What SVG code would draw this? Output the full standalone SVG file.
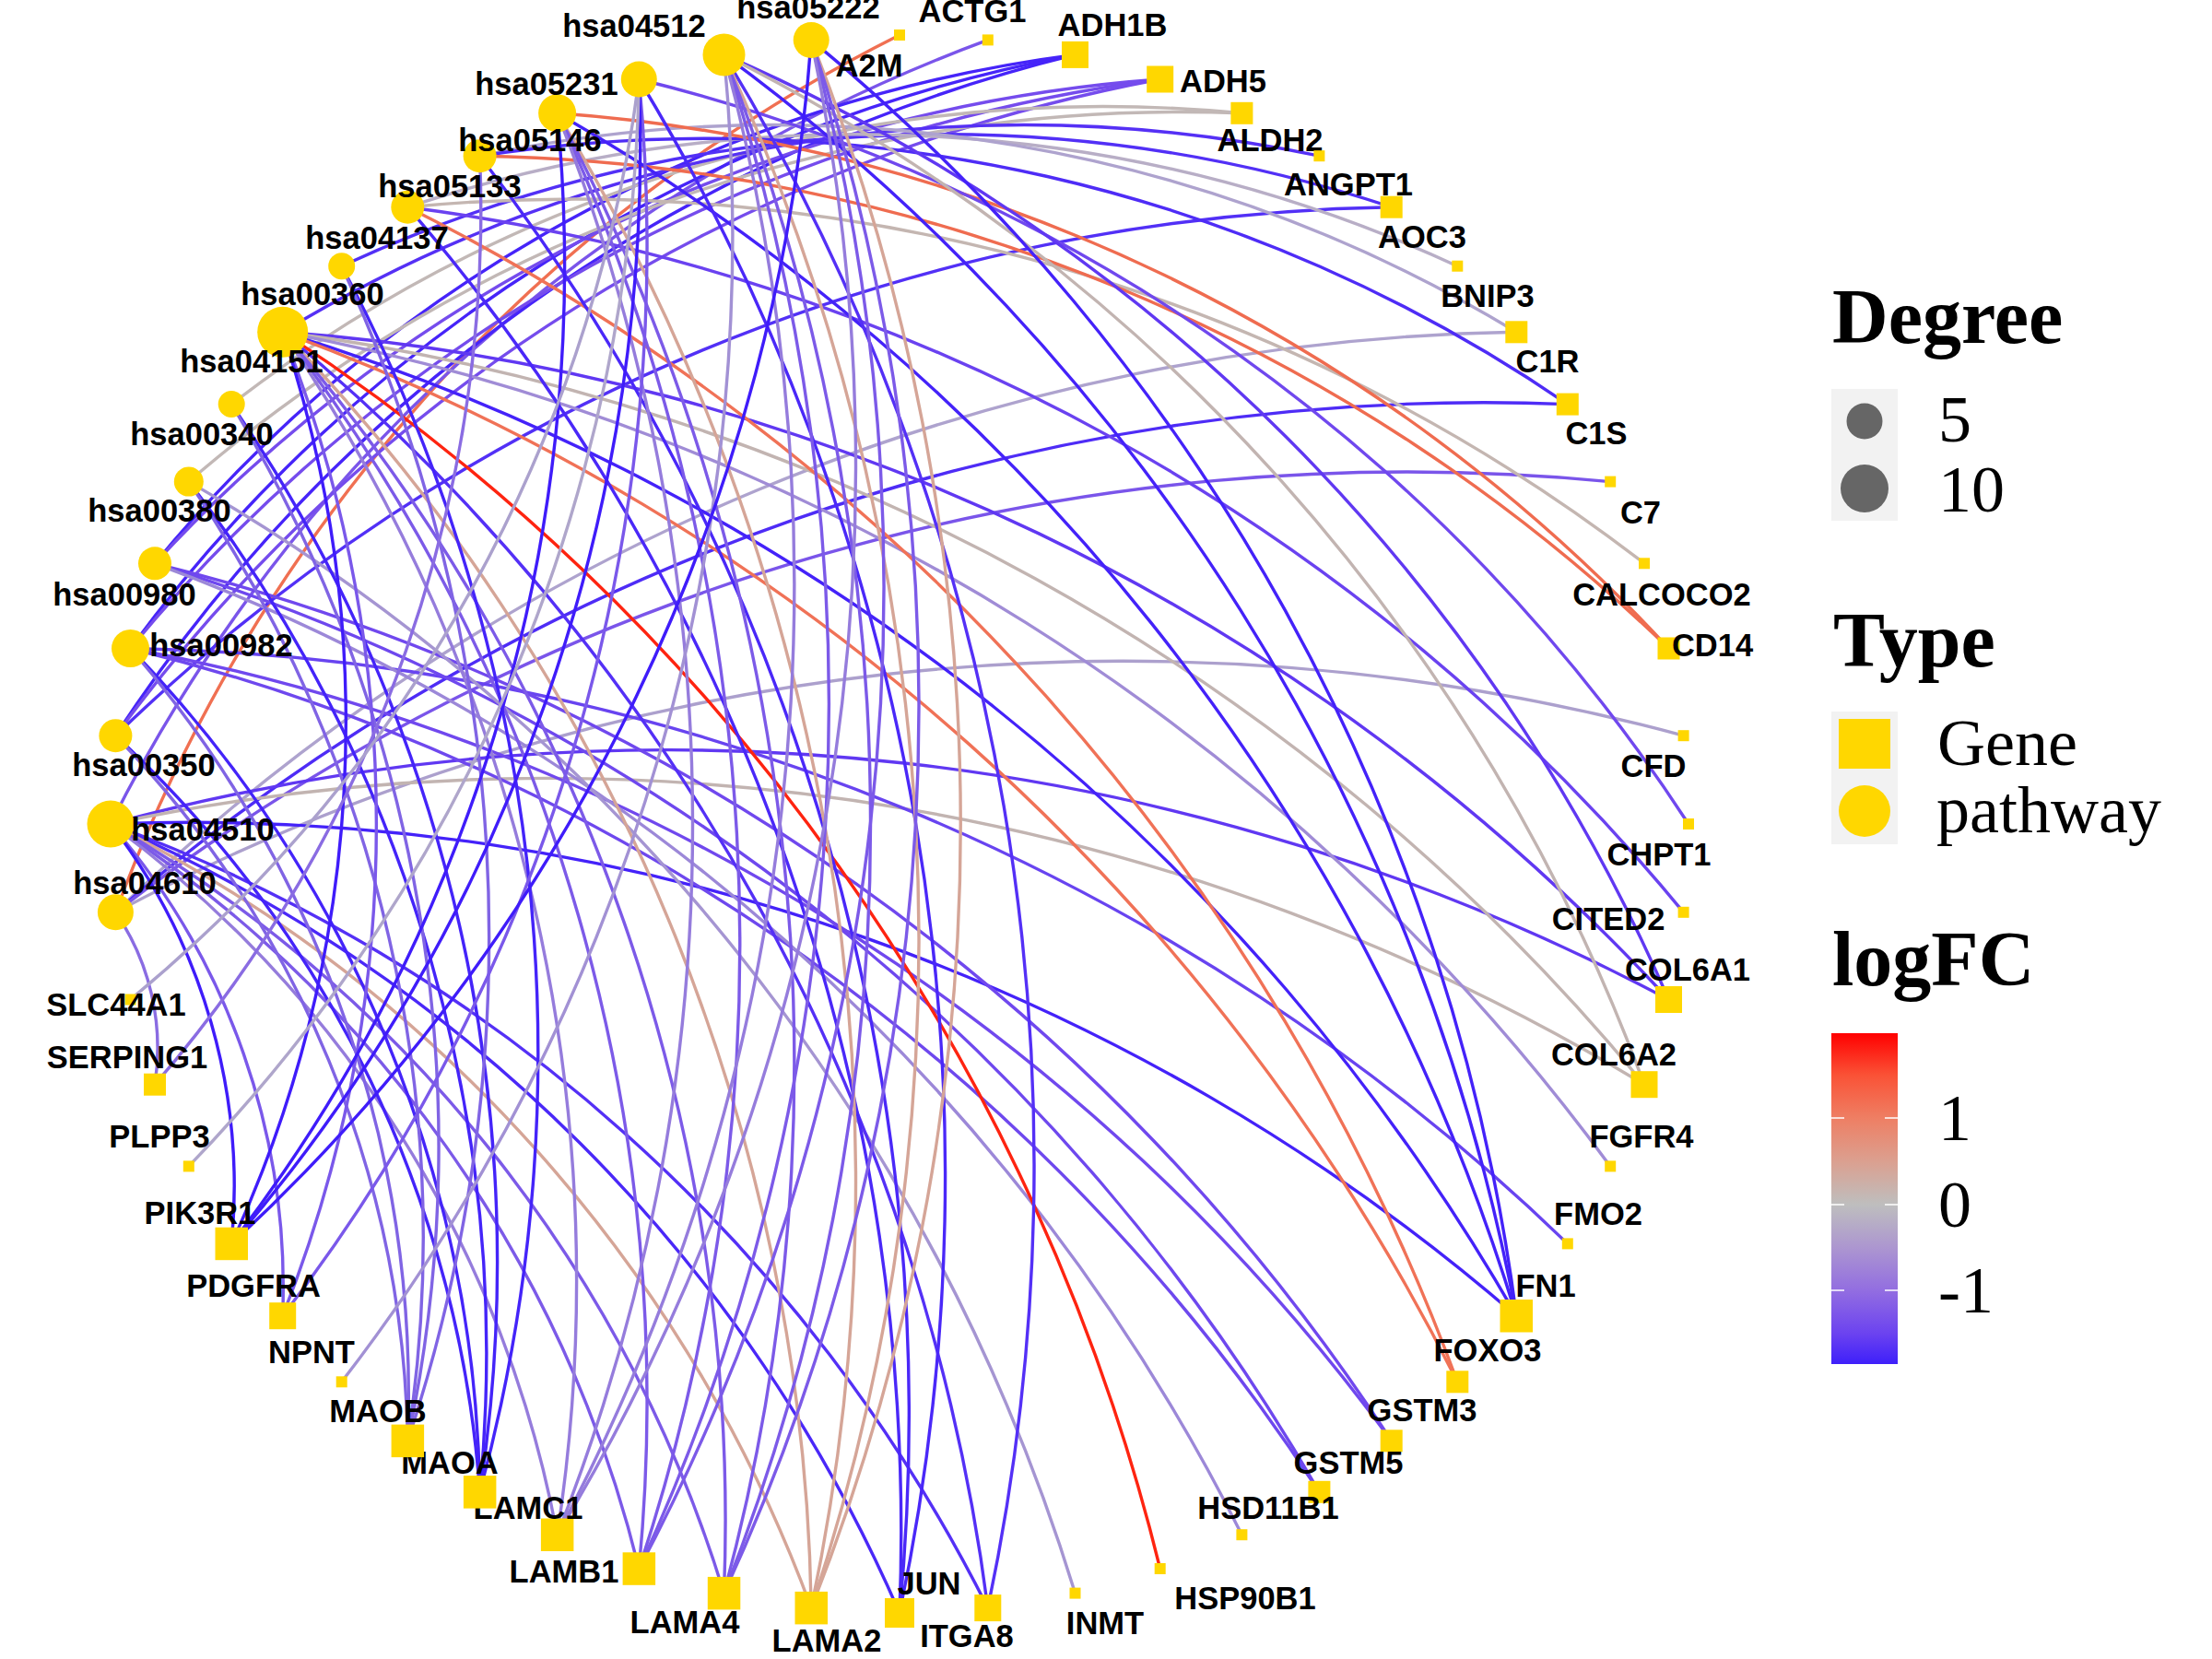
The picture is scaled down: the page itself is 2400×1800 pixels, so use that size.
<svg xmlns="http://www.w3.org/2000/svg" width="2400" height="1800" viewBox="0 0 2400 1800">
<style>
.e{fill:none;stroke-width:3.4}
.lb{font-family:"Liberation Sans",Arial,sans-serif;font-weight:bold;font-size:34.5px;fill:#000;text-anchor:middle}
.gene{fill:#FFD700}
.pw{fill:#FFD700}
.lt{font-family:"Liberation Serif","Times New Roman",serif;font-weight:bold;font-size:84px;fill:#000}
.ll{font-family:"Liberation Serif","Times New Roman",serif;font-size:72px;fill:#000}
.cA2M{stroke:#F07052}.cACTG1{stroke:#7A55EA}.cADH1B{stroke:#4624F9}.cADH5{stroke:#754CED}.cALDH2{stroke:#C2B8B6}
.cANGPT1{stroke:#5530F5}.cAOC3{stroke:#5230F6}.cBNIP3{stroke:#B8AEC6}.cC1R{stroke:#AEA3CE}.cC1S{stroke:#4E2CF6}
.cC7{stroke:#7A55EA}.cCALCOCO2{stroke:#C4B6B1}.cCD14{stroke:#EF6C50}.cCFD{stroke:#ACA0CD}.cCHPT1{stroke:#7048EE}
.cCITED2{stroke:#6A42F0}.cCOL6A1{stroke:#6038F2}.cCOL6A2{stroke:#C2B4B1}.cFGFR4{stroke:#A08CD6}.cFMO2{stroke:#6844F0}
.cFN1{stroke:#4422F9}.cFOXO3{stroke:#F07257}.cGSTM3{stroke:#7048EE}.cGSTM5{stroke:#6E48EE}.cHSD11B1{stroke:#9C88D8}
.cHSP90B1{stroke:#FE2410}.cINMT{stroke:#A595D2}.cITGA8{stroke:#5430F6}.cJUN{stroke:#4A28F8}.cLAMA2{stroke:#D5A597}
.cLAMA4{stroke:#7C5AE8}.cLAMB1{stroke:#7C5AE8}.cLAMC1{stroke:#957CDC}.cMAOA{stroke:#4424F9}.cMAOB{stroke:#8064E4}
.cNPNT{stroke:#A291D4}.cPDGFRA{stroke:#7A58EA}.cPIK3R1{stroke:#3F1CFA}.cPLPP3{stroke:#AFA6CB}.cSERPING1{stroke:#8A6CE2}
.cSLC44A1{stroke:#ABA1CD}
</style>
<defs>
<linearGradient id="fcgrad" x1="0" y1="0" x2="0" y2="1">
<stop offset="0" stop-color="#FF0000"/>
<stop offset="0.127" stop-color="#FA5236"/>
<stop offset="0.258" stop-color="#EE7F64"/>
<stop offset="0.388" stop-color="#DBA090"/>
<stop offset="0.518" stop-color="#BEBEBE"/>
<stop offset="0.648" stop-color="#AC96D0"/>
<stop offset="0.779" stop-color="#926DE1"/>
<stop offset="0.909" stop-color="#6B42F0"/>
<stop offset="1" stop-color="#3E1FFA"/>
</linearGradient>
</defs>
<rect width="2400" height="1800" fill="#FFFFFF"/>
<g id="edges">
<path class="e cA2M" d="M125.4 989.8A1736.2 1736.2 0 0 1 976 38"/>
<path class="e cC1R" d="M125.4 989.8A2237 2237 0 0 1 1645.3 360.3"/>
<path class="e cC1S" d="M125.4 989.8A2269.6 2269.6 0 0 1 1700.8 438.6"/>
<path class="e cC7" d="M125.4 989.8A2295.1 2295.1 0 0 1 1747.2 522.6"/>
<path class="e cCFD" d="M125.4 989.8A2328 2328 0 0 1 1826.6 798.2"/>
<path class="e cSERPING1" d="M125.4 989.8A260.6 260.6 0 0 1 168 1176.7"/>
<path class="e cACTG1" d="M120 894A1736.2 1736.2 0 0 1 1071.8 43.4"/>
<path class="e cCOL6A1" d="M120 894A2313.4 2313.4 0 0 1 1810.5 1084.5"/>
<path class="e cCOL6A2" d="M120 894A2295.1 2295.1 0 0 1 1784 1176.7"/>
<path class="e cFN1" d="M120 894A2197.4 2197.4 0 0 1 1645.3 1427.7"/>
<path class="e cITGA8" d="M120 894A1736.2 1736.2 0 0 1 1071.8 1744.6"/>
<path class="e cJUN" d="M120 894A1646.1 1646.1 0 0 1 976 1750"/>
<path class="e cLAMA2" d="M120 894A1551.2 1551.2 0 0 1 880.2 1744.6"/>
<path class="e cLAMA4" d="M120 894A1451.5 1451.5 0 0 1 785.5 1728.6"/>
<path class="e cLAMB1" d="M120 894A1347.2 1347.2 0 0 1 693.3 1702"/>
<path class="e cLAMC1" d="M120 894A1238.6 1238.6 0 0 1 604.6 1665.2"/>
<path class="e cPDGFRA" d="M120 894A768.9 768.9 0 0 1 306.7 1427.7"/>
<path class="e cPIK3R1" d="M120 894A644.5 644.5 0 0 1 251.2 1349.4"/>
<path class="e cADH1B" d="M125.4 798.2A1736.2 1736.2 0 0 1 1166.5 59.4"/>
<path class="e cADH5" d="M125.4 798.2A1820.1 1820.1 0 0 1 1258.7 86"/>
<path class="e cAOC3" d="M125.4 798.2A2037.4 2037.4 0 0 1 1509.7 224.7"/>
<path class="e cMAOA" d="M125.4 798.2A1238.6 1238.6 0 0 1 520.6 1618.8"/>
<path class="e cMAOB" d="M125.4 798.2A1126.1 1126.1 0 0 1 442.3 1563.3"/>
<path class="e cADH1B" d="M141.5 703.5A1646.1 1646.1 0 0 1 1166.5 59.4"/>
<path class="e cADH5" d="M141.5 703.5A1736.2 1736.2 0 0 1 1258.7 86"/>
<path class="e cFMO2" d="M141.5 703.5A2295.1 2295.1 0 0 1 1700.8 1349.4"/>
<path class="e cGSTM3" d="M141.5 703.5A2197.4 2197.4 0 0 1 1509.7 1563.3"/>
<path class="e cGSTM5" d="M141.5 703.5A2150.8 2150.8 0 0 1 1431.4 1618.8"/>
<path class="e cMAOA" d="M141.5 703.5A1347.2 1347.2 0 0 1 520.6 1618.8"/>
<path class="e cMAOB" d="M141.5 703.5A1238.6 1238.6 0 0 1 442.3 1563.3"/>
<path class="e cADH1B" d="M168 611.3A1551.2 1551.2 0 0 1 1166.5 59.4"/>
<path class="e cADH5" d="M168 611.3A1646.1 1646.1 0 0 1 1258.7 86"/>
<path class="e cGSTM3" d="M168 611.3A2237 2237 0 0 1 1509.7 1563.3"/>
<path class="e cGSTM5" d="M168 611.3A2197.4 2197.4 0 0 1 1431.4 1618.8"/>
<path class="e cHSD11B1" d="M168 611.3A2150.8 2150.8 0 0 1 1347.4 1665.2"/>
<path class="e cALDH2" d="M204.8 522.6A1646.1 1646.1 0 0 1 1347.4 122.8"/>
<path class="e cINMT" d="M204.8 522.6A2097.5 2097.5 0 0 1 1166.5 1728.6"/>
<path class="e cMAOA" d="M204.8 522.6A1551.2 1551.2 0 0 1 520.6 1618.8"/>
<path class="e cMAOB" d="M204.8 522.6A1451.5 1451.5 0 0 1 442.3 1563.3"/>
<path class="e cALDH2" d="M251.2 438.6A1551.2 1551.2 0 0 1 1347.4 122.8"/>
<path class="e cMAOA" d="M251.2 438.6A1646.1 1646.1 0 0 1 520.6 1618.8"/>
<path class="e cMAOB" d="M251.2 438.6A1551.2 1551.2 0 0 1 442.3 1563.3"/>
<path class="e cANGPT1" d="M306.7 360.3A1551.2 1551.2 0 0 1 1431.4 169.2"/>
<path class="e cCOL6A1" d="M306.7 360.3A2269.6 2269.6 0 0 1 1810.5 1084.5"/>
<path class="e cCOL6A2" d="M306.7 360.3A2295.1 2295.1 0 0 1 1784 1176.7"/>
<path class="e cFGFR4" d="M306.7 360.3A2313.4 2313.4 0 0 1 1747.2 1265.4"/>
<path class="e cFN1" d="M306.7 360.3A2328 2328 0 0 1 1645.3 1427.7"/>
<path class="e cFOXO3" d="M306.7 360.3A2324.3 2324.3 0 0 1 1581.3 1499.3"/>
<path class="e cHSP90B1" d="M306.7 360.3A2237 2237 0 0 1 1258.7 1702"/>
<path class="e cITGA8" d="M306.7 360.3A2150.8 2150.8 0 0 1 1071.8 1744.6"/>
<path class="e cLAMA2" d="M306.7 360.3A2037.4 2037.4 0 0 1 880.2 1744.6"/>
<path class="e cLAMA4" d="M306.7 360.3A1971.2 1971.2 0 0 1 785.5 1728.6"/>
<path class="e cLAMB1" d="M306.7 360.3A1898.9 1898.9 0 0 1 693.3 1702"/>
<path class="e cLAMC1" d="M306.7 360.3A1820.1 1820.1 0 0 1 604.6 1665.2"/>
<path class="e cPDGFRA" d="M306.7 360.3A1451.5 1451.5 0 0 1 306.7 1427.7"/>
<path class="e cPIK3R1" d="M306.7 360.3A1347.2 1347.2 0 0 1 251.2 1349.4"/>
<path class="e cAOC3" d="M370.7 288.7A1551.2 1551.2 0 0 1 1509.7 224.7"/>
<path class="e cMAOA" d="M370.7 288.7A1820.1 1820.1 0 0 1 520.6 1618.8"/>
<path class="e cMAOB" d="M370.7 288.7A1736.2 1736.2 0 0 1 442.3 1563.3"/>
<path class="e cBNIP3" d="M442.3 224.7A1551.2 1551.2 0 0 1 1581.3 288.7"/>
<path class="e cCALCOCO2" d="M442.3 224.7A1898.9 1898.9 0 0 1 1784 611.3"/>
<path class="e cCITED2" d="M442.3 224.7A2150.8 2150.8 0 0 1 1826.6 989.8"/>
<path class="e cFOXO3" d="M442.3 224.7A2324.3 2324.3 0 0 1 1581.3 1499.3"/>
<path class="e cJUN" d="M442.3 224.7A2197.4 2197.4 0 0 1 976 1750"/>
<path class="e cC1R" d="M520.6 169.2A1551.2 1551.2 0 0 1 1645.3 360.3"/>
<path class="e cC1S" d="M520.6 169.2A1646.1 1646.1 0 0 1 1700.8 438.6"/>
<path class="e cCD14" d="M520.6 169.2A1898.9 1898.9 0 0 1 1810.5 703.5"/>
<path class="e cJUN" d="M520.6 169.2A2237 2237 0 0 1 976 1750"/>
<path class="e cSERPING1" d="M520.6 169.2A1451.5 1451.5 0 0 1 168 1176.7"/>
<path class="e cCD14" d="M604.6 122.8A1820.1 1820.1 0 0 1 1810.5 703.5"/>
<path class="e cFN1" d="M604.6 122.8A2269.6 2269.6 0 0 1 1645.3 1427.7"/>
<path class="e cLAMA2" d="M604.6 122.8A2237 2237 0 0 1 880.2 1744.6"/>
<path class="e cLAMA4" d="M604.6 122.8A2197.4 2197.4 0 0 1 785.5 1728.6"/>
<path class="e cLAMB1" d="M604.6 122.8A2150.8 2150.8 0 0 1 693.3 1702"/>
<path class="e cLAMC1" d="M604.6 122.8A2097.5 2097.5 0 0 1 604.6 1665.2"/>
<path class="e cPIK3R1" d="M604.6 122.8A1736.2 1736.2 0 0 1 251.2 1349.4"/>
<path class="e cCHPT1" d="M693.3 86A1898.9 1898.9 0 0 1 1832 894"/>
<path class="e cJUN" d="M693.3 86A2295.1 2295.1 0 0 1 976 1750"/>
<path class="e cPDGFRA" d="M693.3 86A1898.9 1898.9 0 0 1 306.7 1427.7"/>
<path class="e cPIK3R1" d="M693.3 86A1820.1 1820.1 0 0 1 251.2 1349.4"/>
<path class="e cPLPP3" d="M693.3 86A1736.2 1736.2 0 0 1 204.8 1265.4"/>
<path class="e cSLC44A1" d="M693.3 86A1551.2 1551.2 0 0 1 141.5 1084.5"/>
<path class="e cCOL6A1" d="M785.5 59.4A1971.2 1971.2 0 0 1 1810.5 1084.5"/>
<path class="e cCOL6A2" d="M785.5 59.4A2037.4 2037.4 0 0 1 1784 1176.7"/>
<path class="e cFN1" d="M785.5 59.4A2197.4 2197.4 0 0 1 1645.3 1427.7"/>
<path class="e cITGA8" d="M785.5 59.4A2324.3 2324.3 0 0 1 1071.8 1744.6"/>
<path class="e cLAMA2" d="M785.5 59.4A2295.1 2295.1 0 0 1 880.2 1744.6"/>
<path class="e cLAMA4" d="M785.5 59.4A2269.6 2269.6 0 0 1 785.5 1728.6"/>
<path class="e cLAMB1" d="M785.5 59.4A2237 2237 0 0 1 693.3 1702"/>
<path class="e cLAMC1" d="M785.5 59.4A2197.4 2197.4 0 0 1 604.6 1665.2"/>
<path class="e cNPNT" d="M785.5 59.4A2037.4 2037.4 0 0 1 370.7 1499.3"/>
<path class="e cFN1" d="M880.2 43.4A2150.8 2150.8 0 0 1 1645.3 1427.7"/>
<path class="e cLAMA2" d="M880.2 43.4A2313.4 2313.4 0 0 1 880.2 1744.6"/>
<path class="e cLAMA4" d="M880.2 43.4A2295.1 2295.1 0 0 1 785.5 1728.6"/>
<path class="e cLAMB1" d="M880.2 43.4A2269.6 2269.6 0 0 1 693.3 1702"/>
<path class="e cLAMC1" d="M880.2 43.4A2237 2237 0 0 1 604.6 1665.2"/>
<path class="e cPIK3R1" d="M880.2 43.4A1971.2 1971.2 0 0 1 251.2 1349.4"/>
</g>
<g id="nodes">
<g id="n-A2M"><rect class="gene" x="970" y="32" width="12" height="12"/><text class="lb" x="943" y="83">A2M</text></g>
<g id="n-ACTG1"><rect class="gene" x="1065.8" y="37.4" width="12" height="12"/><text class="lb" x="1055" y="24">ACTG1</text></g>
<g id="n-ADH1B"><rect class="gene" x="1152" y="44.9" width="29" height="29"/><text class="lb" x="1207" y="39">ADH1B</text></g>
<g id="n-ADH5"><rect class="gene" x="1244.2" y="71.5" width="29" height="29"/><text class="lb" x="1327" y="100">ADH5</text></g>
<g id="n-ALDH2"><rect class="gene" x="1335.4" y="110.8" width="24" height="24"/><text class="lb" x="1378" y="164">ALDH2</text></g>
<g id="n-ANGPT1"><rect class="gene" x="1425.4" y="163.2" width="12" height="12"/><text class="lb" x="1463" y="212">ANGPT1</text></g>
<g id="n-AOC3"><rect class="gene" x="1497.7" y="212.7" width="24" height="24"/><text class="lb" x="1543" y="269">AOC3</text></g>
<g id="n-BNIP3"><rect class="gene" x="1575.3" y="282.7" width="12" height="12"/><text class="lb" x="1614" y="333">BNIP3</text></g>
<g id="n-C1R"><rect class="gene" x="1633.3" y="348.3" width="24" height="24"/><text class="lb" x="1679" y="404">C1R</text></g>
<g id="n-C1S"><rect class="gene" x="1688.8" y="426.6" width="24" height="24"/><text class="lb" x="1732" y="482">C1S</text></g>
<g id="n-C7"><rect class="gene" x="1741.2" y="516.6" width="12" height="12"/><text class="lb" x="1780" y="568">C7</text></g>
<g id="n-CALCOCO2"><rect class="gene" x="1778" y="605.3" width="12" height="12"/><text class="lb" x="1803" y="657">CALCOCO2</text></g>
<g id="n-CD14"><rect class="gene" x="1798.5" y="691.5" width="24" height="24"/><text class="lb" x="1858" y="712">CD14</text></g>
<g id="n-CFD"><rect class="gene" x="1820.6" y="792.2" width="12" height="12"/><text class="lb" x="1794" y="843">CFD</text></g>
<g id="n-CHPT1"><rect class="gene" x="1826" y="888" width="12" height="12"/><text class="lb" x="1800" y="939">CHPT1</text></g>
<g id="n-CITED2"><rect class="gene" x="1820.6" y="983.8" width="12" height="12"/><text class="lb" x="1745" y="1009">CITED2</text></g>
<g id="n-COL6A1"><rect class="gene" x="1796" y="1070" width="29" height="29"/><text class="lb" x="1831" y="1064">COL6A1</text></g>
<g id="n-COL6A2"><rect class="gene" x="1769.5" y="1162.2" width="29" height="29"/><text class="lb" x="1751" y="1156">COL6A2</text></g>
<g id="n-FGFR4"><rect class="gene" x="1741.2" y="1259.4" width="12" height="12"/><text class="lb" x="1781" y="1245">FGFR4</text></g>
<g id="n-FMO2"><rect class="gene" x="1694.8" y="1343.4" width="12" height="12"/><text class="lb" x="1734" y="1329">FMO2</text></g>
<g id="n-FN1"><rect class="gene" x="1627.5" y="1410" width="35.5" height="35.5"/><text class="lb" x="1677" y="1407">FN1</text></g>
<g id="n-FOXO3"><rect class="gene" x="1569.3" y="1487.3" width="24" height="24"/><text class="lb" x="1614" y="1477">FOXO3</text></g>
<g id="n-GSTM3"><rect class="gene" x="1497.7" y="1551.3" width="24" height="24"/><text class="lb" x="1543" y="1542">GSTM3</text></g>
<g id="n-GSTM5"><rect class="gene" x="1419.4" y="1606.8" width="24" height="24"/><text class="lb" x="1463" y="1599">GSTM5</text></g>
<g id="n-HSD11B1"><rect class="gene" x="1341.4" y="1659.2" width="12" height="12"/><text class="lb" x="1376" y="1648">HSD11B1</text></g>
<g id="n-HSP90B1"><rect class="gene" x="1252.7" y="1696" width="12" height="12"/><text class="lb" x="1351" y="1746">HSP90B1</text></g>
<g id="n-INMT"><rect class="gene" x="1160.5" y="1722.6" width="12" height="12"/><text class="lb" x="1199" y="1773">INMT</text></g>
<g id="n-ITGA8"><rect class="gene" x="1057.3" y="1730.1" width="29" height="29"/><text class="lb" x="1049" y="1787">ITGA8</text></g>
<g id="n-JUN"><rect class="gene" x="960" y="1734" width="32" height="32"/><text class="lb" x="1008" y="1730">JUN</text></g>
<g id="n-LAMA2"><rect class="gene" x="862.5" y="1726.9" width="35.5" height="35.5"/><text class="lb" x="897" y="1792">LAMA2</text></g>
<g id="n-LAMA4"><rect class="gene" x="767.8" y="1710.9" width="35.5" height="35.5"/><text class="lb" x="743" y="1772">LAMA4</text></g>
<g id="n-LAMB1"><rect class="gene" x="675.6" y="1684.3" width="35.5" height="35.5"/><text class="lb" x="612" y="1717">LAMB1</text></g>
<g id="n-LAMC1"><rect class="gene" x="586.9" y="1647.5" width="35.5" height="35.5"/><text class="lb" x="573" y="1648">LAMC1</text></g>
<g id="n-MAOA"><rect class="gene" x="502.9" y="1601.1" width="35.5" height="35.5"/><text class="lb" x="488" y="1599">MAOA</text></g>
<g id="n-MAOB"><rect class="gene" x="424.6" y="1545.6" width="35.5" height="35.5"/><text class="lb" x="410" y="1543">MAOB</text></g>
<g id="n-NPNT"><rect class="gene" x="364.7" y="1493.3" width="12" height="12"/><text class="lb" x="338" y="1479">NPNT</text></g>
<g id="n-PDGFRA"><rect class="gene" x="292.2" y="1413.2" width="29" height="29"/><text class="lb" x="275" y="1407">PDGFRA</text></g>
<g id="n-PIK3R1"><rect class="gene" x="233.5" y="1331.7" width="35.5" height="35.5"/><text class="lb" x="217" y="1328">PIK3R1</text></g>
<g id="n-PLPP3"><rect class="gene" x="198.8" y="1259.4" width="12" height="12"/><text class="lb" x="173" y="1245">PLPP3</text></g>
<g id="n-SERPING1"><rect class="gene" x="156" y="1164.7" width="24" height="24"/><text class="lb" x="138" y="1159">SERPING1</text></g>
<g id="n-SLC44A1"><rect class="gene" x="135.5" y="1078.5" width="12" height="12"/><text class="lb" x="126" y="1102">SLC44A1</text></g>
<g id="n-hsa04610"><circle class="pw" cx="125.4" cy="989.8" r="19.5"/><text class="lb" x="157" y="970">hsa04610</text></g>
<g id="n-hsa04510"><circle class="pw" cx="120" cy="894" r="25.5"/><text class="lb" x="220" y="912">hsa04510</text></g>
<g id="n-hsa00350"><circle class="pw" cx="125.4" cy="798.2" r="18"/><text class="lb" x="156" y="842">hsa00350</text></g>
<g id="n-hsa00982"><circle class="pw" cx="141.5" cy="703.5" r="20.5"/><text class="lb" x="240" y="712">hsa00982</text></g>
<g id="n-hsa00980"><circle class="pw" cx="168" cy="611.3" r="18"/><text class="lb" x="135" y="657">hsa00980</text></g>
<g id="n-hsa00380"><circle class="pw" cx="204.8" cy="522.6" r="16"/><text class="lb" x="173" y="566">hsa00380</text></g>
<g id="n-hsa00340"><circle class="pw" cx="251.2" cy="438.6" r="14.5"/><text class="lb" x="219" y="483">hsa00340</text></g>
<g id="n-hsa04151"><circle class="pw" cx="306.7" cy="360.3" r="27.5"/><text class="lb" x="273" y="404">hsa04151</text></g>
<g id="n-hsa00360"><circle class="pw" cx="370.7" cy="288.7" r="14.5"/><text class="lb" x="339" y="331">hsa00360</text></g>
<g id="n-hsa04137"><circle class="pw" cx="442.3" cy="224.7" r="18"/><text class="lb" x="409" y="270">hsa04137</text></g>
<g id="n-hsa05133"><circle class="pw" cx="520.6" cy="169.2" r="18"/><text class="lb" x="488" y="214">hsa05133</text></g>
<g id="n-hsa05146"><circle class="pw" cx="604.6" cy="122.8" r="20.5"/><text class="lb" x="575" y="164">hsa05146</text></g>
<g id="n-hsa05231"><circle class="pw" cx="693.3" cy="86" r="19.5"/><text class="lb" x="593" y="103">hsa05231</text></g>
<g id="n-hsa04512"><circle class="pw" cx="785.5" cy="59.4" r="23"/><text class="lb" x="688" y="40">hsa04512</text></g>
<g id="n-hsa05222"><circle class="pw" cx="880.2" cy="43.4" r="19.5"/><text class="lb" x="877" y="20">hsa05222</text></g>
</g>
<g id="legend">
<text class="lt" x="1988" y="372">Degree</text>
<rect x="1987" y="422" width="72" height="143" fill="#F2F2F2"/>
<circle cx="2023" cy="457" r="19.5" fill="#666666"/>
<circle cx="2023" cy="530" r="26" fill="#666666"/>
<text class="ll" x="2103" y="479">5</text>
<text class="ll" x="2103" y="555">10</text>
<text class="lt" x="1989" y="723">Type</text>
<rect x="1987" y="772" width="72" height="144" fill="#F2F2F2"/>
<rect x="1995" y="780" width="56" height="54" fill="#FFD700"/>
<circle cx="2023" cy="880" r="28" fill="#FFD700"/>
<text class="ll" x="2102" y="830">Gene</text>
<text class="ll" x="2101" y="903">pathway</text>
<text class="lt" x="1988" y="1069">logFC</text>
<rect x="1987" y="1121" width="72" height="359" fill="url(#fcgrad)"/>
<g stroke="#FFFFFF" stroke-width="1.5">
<line x1="1987" y1="1213" x2="2001" y2="1213"/><line x1="2045" y1="1213" x2="2059" y2="1213"/>
<line x1="1987" y1="1307" x2="2001" y2="1307"/><line x1="2045" y1="1307" x2="2059" y2="1307"/>
<line x1="1987" y1="1400" x2="2001" y2="1400"/><line x1="2045" y1="1400" x2="2059" y2="1400"/>
</g>
<text class="ll" x="2103" y="1237">1</text>
<text class="ll" x="2103" y="1331">0</text>
<text class="ll" x="2103" y="1424">-1</text>
</g>
</svg>
